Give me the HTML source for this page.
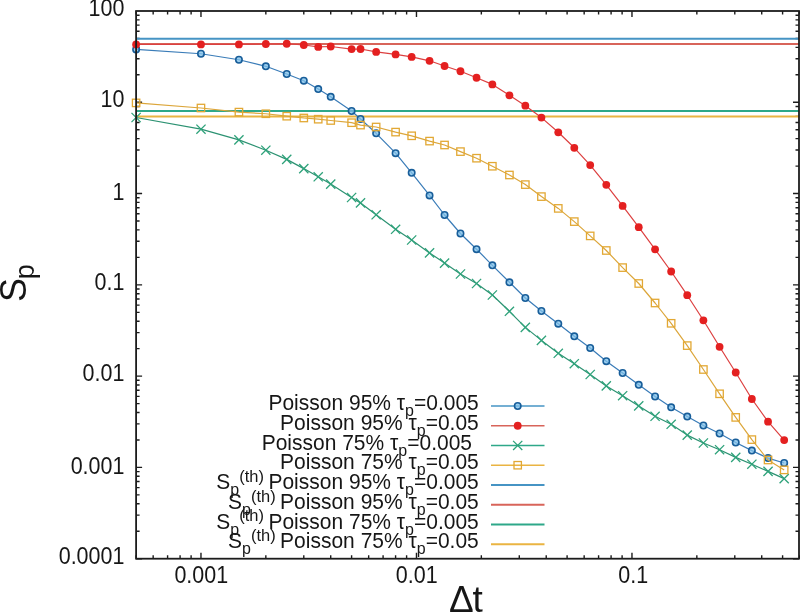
<!DOCTYPE html><html><head><meta charset="utf-8"><style>html,body{margin:0;padding:0;background:#fff;overflow:hidden;width:800px;height:612px;}svg{display:block;}text{font-family:"Liberation Sans",Arial,sans-serif;fill:#161616;}</style></head><body>
<svg width="800" height="612" viewBox="0 0 800 612">
<rect width="800" height="612" fill="#fff"/>
<path d="M136.1,558.7v-3.5M136.1,11v3.5M153.16,558.7v-3.5M153.16,11v3.5M167.59,558.7v-3.5M167.59,11v3.5M180.09,558.7v-3.5M180.09,11v3.5M191.11,558.7v-3.5M191.11,11v3.5M200.97,558.7v-6M200.97,11v6M265.84,558.7v-3.5M265.84,11v3.5M303.79,558.7v-3.5M303.79,11v3.5M330.72,558.7v-3.5M330.72,11v3.5M351.6,558.7v-3.5M351.6,11v3.5M368.66,558.7v-3.5M368.66,11v3.5M383.09,558.7v-3.5M383.09,11v3.5M395.59,558.7v-3.5M395.59,11v3.5M406.61,558.7v-3.5M406.61,11v3.5M416.47,558.7v-6M416.47,11v6M481.34,558.7v-3.5M481.34,11v3.5M519.29,558.7v-3.5M519.29,11v3.5M546.22,558.7v-3.5M546.22,11v3.5M567.1,558.7v-3.5M567.1,11v3.5M584.16,558.7v-3.5M584.16,11v3.5M598.59,558.7v-3.5M598.59,11v3.5M611.09,558.7v-3.5M611.09,11v3.5M622.11,558.7v-3.5M622.11,11v3.5M631.97,558.7v-6M631.97,11v6M696.84,558.7v-3.5M696.84,11v3.5M734.79,558.7v-3.5M734.79,11v3.5M761.72,558.7v-3.5M761.72,11v3.5M782.6,558.7v-3.5M782.6,11v3.5M799.66,558.7v-3.5M799.66,11v3.5M136.1,558.7h6M799,558.7h-6M136.1,531.22h3.5M799,531.22h-3.5M136.1,515.15h3.5M799,515.15h-3.5M136.1,503.74h3.5M799,503.74h-3.5M136.1,494.9h3.5M799,494.9h-3.5M136.1,487.67h3.5M799,487.67h-3.5M136.1,481.56h3.5M799,481.56h-3.5M136.1,476.26h3.5M799,476.26h-3.5M136.1,471.59h3.5M799,471.59h-3.5M136.1,467.42h6M799,467.42h-6M136.1,439.94h3.5M799,439.94h-3.5M136.1,423.86h3.5M799,423.86h-3.5M136.1,412.46h3.5M799,412.46h-3.5M136.1,403.61h3.5M799,403.61h-3.5M136.1,396.38h3.5M799,396.38h-3.5M136.1,390.27h3.5M799,390.27h-3.5M136.1,384.98h3.5M799,384.98h-3.5M136.1,380.31h3.5M799,380.31h-3.5M136.1,376.13h6M799,376.13h-6M136.1,348.65h3.5M799,348.65h-3.5M136.1,332.58h3.5M799,332.58h-3.5M136.1,321.18h3.5M799,321.18h-3.5M136.1,312.33h3.5M799,312.33h-3.5M136.1,305.1h3.5M799,305.1h-3.5M136.1,298.99h3.5M799,298.99h-3.5M136.1,293.7h3.5M799,293.7h-3.5M136.1,289.03h3.5M799,289.03h-3.5M136.1,284.85h6M799,284.85h-6M136.1,257.37h3.5M799,257.37h-3.5M136.1,241.3h3.5M799,241.3h-3.5M136.1,229.89h3.5M799,229.89h-3.5M136.1,221.05h3.5M799,221.05h-3.5M136.1,213.82h3.5M799,213.82h-3.5M136.1,207.71h3.5M799,207.71h-3.5M136.1,202.41h3.5M799,202.41h-3.5M136.1,197.74h3.5M799,197.74h-3.5M136.1,193.57h6M799,193.57h-6M136.1,166.09h3.5M799,166.09h-3.5M136.1,150.01h3.5M799,150.01h-3.5M136.1,138.61h3.5M799,138.61h-3.5M136.1,129.76h3.5M799,129.76h-3.5M136.1,122.53h3.5M799,122.53h-3.5M136.1,116.42h3.5M799,116.42h-3.5M136.1,111.13h3.5M799,111.13h-3.5M136.1,106.46h3.5M799,106.46h-3.5M136.1,102.28h6M799,102.28h-6M136.1,74.8h3.5M799,74.8h-3.5M136.1,58.73h3.5M799,58.73h-3.5M136.1,47.33h3.5M799,47.33h-3.5M136.1,38.48h3.5M799,38.48h-3.5M136.1,31.25h3.5M799,31.25h-3.5M136.1,25.14h3.5M799,25.14h-3.5M136.1,19.85h3.5M799,19.85h-3.5M136.1,15.18h3.5M799,15.18h-3.5" stroke="#1c1c1c" stroke-width="1.4" fill="none"/>
<line x1="136.1" y1="38.8" x2="799.0" y2="38.8" stroke="#4694c4" stroke-width="2.0"/>
<line x1="136.1" y1="44.1" x2="799.0" y2="44.1" stroke="#d8645a" stroke-width="2.0"/>
<line x1="136.1" y1="111.05" x2="799.0" y2="111.05" stroke="#2ea889" stroke-width="2.0"/>
<line x1="136.1" y1="116.6" x2="799.0" y2="116.6" stroke="#eab442" stroke-width="2.0"/>
<polyline points="136.1,49.4 200.97,53.75 238.92,59.75 265.84,66.3 286.73,74 303.79,80.7 318.22,89.1 330.72,96.8 351.6,111 360.52,119 376.15,133.3 395.59,153.2 411.67,172.8 429.55,195.4 444.56,215 460.46,233.5 476.54,249.2 492.37,265.3 509.43,282.3 525.33,298 541.42,311 558.27,323.7 574.3,336.3 590.2,348 606.29,361.2 622.63,373 638.74,384.8 655.08,396.5 671.16,407.3 687.24,416.6 703.39,425.5 719.58,433.5 735.72,442.5 751.86,450.6 768.05,458.1 784.18,463" fill="none" stroke="#3a7cb8" stroke-width="1.2" stroke-linejoin="round"/>
<circle cx="136.1" cy="49.4" r="3.2" fill="#7fc0ea" fill-opacity="0.75" stroke="#185e9a" stroke-width="1.6"/><circle cx="200.97" cy="53.75" r="3.2" fill="#7fc0ea" fill-opacity="0.75" stroke="#185e9a" stroke-width="1.6"/><circle cx="238.92" cy="59.75" r="3.2" fill="#7fc0ea" fill-opacity="0.75" stroke="#185e9a" stroke-width="1.6"/><circle cx="265.84" cy="66.3" r="3.2" fill="#7fc0ea" fill-opacity="0.75" stroke="#185e9a" stroke-width="1.6"/><circle cx="286.73" cy="74" r="3.2" fill="#7fc0ea" fill-opacity="0.75" stroke="#185e9a" stroke-width="1.6"/><circle cx="303.79" cy="80.7" r="3.2" fill="#7fc0ea" fill-opacity="0.75" stroke="#185e9a" stroke-width="1.6"/><circle cx="318.22" cy="89.1" r="3.2" fill="#7fc0ea" fill-opacity="0.75" stroke="#185e9a" stroke-width="1.6"/><circle cx="330.72" cy="96.8" r="3.2" fill="#7fc0ea" fill-opacity="0.75" stroke="#185e9a" stroke-width="1.6"/><circle cx="351.6" cy="111" r="3.2" fill="#7fc0ea" fill-opacity="0.75" stroke="#185e9a" stroke-width="1.6"/><circle cx="360.52" cy="119" r="3.2" fill="#7fc0ea" fill-opacity="0.75" stroke="#185e9a" stroke-width="1.6"/><circle cx="376.15" cy="133.3" r="3.2" fill="#7fc0ea" fill-opacity="0.75" stroke="#185e9a" stroke-width="1.6"/><circle cx="395.59" cy="153.2" r="3.2" fill="#7fc0ea" fill-opacity="0.75" stroke="#185e9a" stroke-width="1.6"/><circle cx="411.67" cy="172.8" r="3.2" fill="#7fc0ea" fill-opacity="0.75" stroke="#185e9a" stroke-width="1.6"/><circle cx="429.55" cy="195.4" r="3.2" fill="#7fc0ea" fill-opacity="0.75" stroke="#185e9a" stroke-width="1.6"/><circle cx="444.56" cy="215" r="3.2" fill="#7fc0ea" fill-opacity="0.75" stroke="#185e9a" stroke-width="1.6"/><circle cx="460.46" cy="233.5" r="3.2" fill="#7fc0ea" fill-opacity="0.75" stroke="#185e9a" stroke-width="1.6"/><circle cx="476.54" cy="249.2" r="3.2" fill="#7fc0ea" fill-opacity="0.75" stroke="#185e9a" stroke-width="1.6"/><circle cx="492.37" cy="265.3" r="3.2" fill="#7fc0ea" fill-opacity="0.75" stroke="#185e9a" stroke-width="1.6"/><circle cx="509.43" cy="282.3" r="3.2" fill="#7fc0ea" fill-opacity="0.75" stroke="#185e9a" stroke-width="1.6"/><circle cx="525.33" cy="298" r="3.2" fill="#7fc0ea" fill-opacity="0.75" stroke="#185e9a" stroke-width="1.6"/><circle cx="541.42" cy="311" r="3.2" fill="#7fc0ea" fill-opacity="0.75" stroke="#185e9a" stroke-width="1.6"/><circle cx="558.27" cy="323.7" r="3.2" fill="#7fc0ea" fill-opacity="0.75" stroke="#185e9a" stroke-width="1.6"/><circle cx="574.3" cy="336.3" r="3.2" fill="#7fc0ea" fill-opacity="0.75" stroke="#185e9a" stroke-width="1.6"/><circle cx="590.2" cy="348" r="3.2" fill="#7fc0ea" fill-opacity="0.75" stroke="#185e9a" stroke-width="1.6"/><circle cx="606.29" cy="361.2" r="3.2" fill="#7fc0ea" fill-opacity="0.75" stroke="#185e9a" stroke-width="1.6"/><circle cx="622.63" cy="373" r="3.2" fill="#7fc0ea" fill-opacity="0.75" stroke="#185e9a" stroke-width="1.6"/><circle cx="638.74" cy="384.8" r="3.2" fill="#7fc0ea" fill-opacity="0.75" stroke="#185e9a" stroke-width="1.6"/><circle cx="655.08" cy="396.5" r="3.2" fill="#7fc0ea" fill-opacity="0.75" stroke="#185e9a" stroke-width="1.6"/><circle cx="671.16" cy="407.3" r="3.2" fill="#7fc0ea" fill-opacity="0.75" stroke="#185e9a" stroke-width="1.6"/><circle cx="687.24" cy="416.6" r="3.2" fill="#7fc0ea" fill-opacity="0.75" stroke="#185e9a" stroke-width="1.6"/><circle cx="703.39" cy="425.5" r="3.2" fill="#7fc0ea" fill-opacity="0.75" stroke="#185e9a" stroke-width="1.6"/><circle cx="719.58" cy="433.5" r="3.2" fill="#7fc0ea" fill-opacity="0.75" stroke="#185e9a" stroke-width="1.6"/><circle cx="735.72" cy="442.5" r="3.2" fill="#7fc0ea" fill-opacity="0.75" stroke="#185e9a" stroke-width="1.6"/><circle cx="751.86" cy="450.6" r="3.2" fill="#7fc0ea" fill-opacity="0.75" stroke="#185e9a" stroke-width="1.6"/><circle cx="768.05" cy="458.1" r="3.2" fill="#7fc0ea" fill-opacity="0.75" stroke="#185e9a" stroke-width="1.6"/><circle cx="784.18" cy="463" r="3.2" fill="#7fc0ea" fill-opacity="0.75" stroke="#185e9a" stroke-width="1.6"/>
<polyline points="136.1,44.5 200.97,44.4 238.92,44.4 265.84,44 286.73,43.75 303.79,45 318.22,46.9 330.72,46.5 351.6,49.1 360.52,49 376.15,51.9 395.59,54.4 411.67,56.9 429.55,60.8 444.56,66 460.46,71.25 476.54,77.75 492.37,84.4 509.43,95.3 525.33,105.65 541.42,117.6 558.27,132.3 574.3,147.8 590.2,165.1 606.29,184.8 622.63,205.9 638.74,227.2 655.08,249.3 671.16,271.5 687.24,295.2 703.39,320.3 719.58,346.8 735.72,372.5 751.86,399 768.05,421.7 784.18,440.1" fill="none" stroke="#dc4040" stroke-width="1.2" stroke-linejoin="round"/>
<circle cx="136.1" cy="44.5" r="3.9" fill="#e42020"/><circle cx="200.97" cy="44.4" r="3.9" fill="#e42020"/><circle cx="238.92" cy="44.4" r="3.9" fill="#e42020"/><circle cx="265.84" cy="44" r="3.9" fill="#e42020"/><circle cx="286.73" cy="43.75" r="3.9" fill="#e42020"/><circle cx="303.79" cy="45" r="3.9" fill="#e42020"/><circle cx="318.22" cy="46.9" r="3.9" fill="#e42020"/><circle cx="330.72" cy="46.5" r="3.9" fill="#e42020"/><circle cx="351.6" cy="49.1" r="3.9" fill="#e42020"/><circle cx="360.52" cy="49" r="3.9" fill="#e42020"/><circle cx="376.15" cy="51.9" r="3.9" fill="#e42020"/><circle cx="395.59" cy="54.4" r="3.9" fill="#e42020"/><circle cx="411.67" cy="56.9" r="3.9" fill="#e42020"/><circle cx="429.55" cy="60.8" r="3.9" fill="#e42020"/><circle cx="444.56" cy="66" r="3.9" fill="#e42020"/><circle cx="460.46" cy="71.25" r="3.9" fill="#e42020"/><circle cx="476.54" cy="77.75" r="3.9" fill="#e42020"/><circle cx="492.37" cy="84.4" r="3.9" fill="#e42020"/><circle cx="509.43" cy="95.3" r="3.9" fill="#e42020"/><circle cx="525.33" cy="105.65" r="3.9" fill="#e42020"/><circle cx="541.42" cy="117.6" r="3.9" fill="#e42020"/><circle cx="558.27" cy="132.3" r="3.9" fill="#e42020"/><circle cx="574.3" cy="147.8" r="3.9" fill="#e42020"/><circle cx="590.2" cy="165.1" r="3.9" fill="#e42020"/><circle cx="606.29" cy="184.8" r="3.9" fill="#e42020"/><circle cx="622.63" cy="205.9" r="3.9" fill="#e42020"/><circle cx="638.74" cy="227.2" r="3.9" fill="#e42020"/><circle cx="655.08" cy="249.3" r="3.9" fill="#e42020"/><circle cx="671.16" cy="271.5" r="3.9" fill="#e42020"/><circle cx="687.24" cy="295.2" r="3.9" fill="#e42020"/><circle cx="703.39" cy="320.3" r="3.9" fill="#e42020"/><circle cx="719.58" cy="346.8" r="3.9" fill="#e42020"/><circle cx="735.72" cy="372.5" r="3.9" fill="#e42020"/><circle cx="751.86" cy="399" r="3.9" fill="#e42020"/><circle cx="768.05" cy="421.7" r="3.9" fill="#e42020"/><circle cx="784.18" cy="440.1" r="3.9" fill="#e42020"/>
<polyline points="136.1,117.5 200.97,129.2 238.92,139.9 265.84,150.2 286.73,159.4 303.79,168.6 318.22,176.8 330.72,184.1 351.6,197.5 360.52,202.9 376.15,214.8 395.59,229.3 411.67,240 429.55,252.9 444.56,263.1 460.46,274 476.54,283.5 492.37,295 509.43,311.3 525.33,327.4 541.42,340.4 558.27,353.3 574.3,363.7 590.2,374.5 606.29,385.9 622.63,395.7 638.74,405.9 655.08,416.3 671.16,424.3 687.24,435.1 703.39,443 719.58,449.7 735.72,457.4 751.86,464.2 768.05,471.4 784.18,478.6" fill="none" stroke="#2c9272" stroke-width="1.2" stroke-linejoin="round"/>
<path d="M131.5,112.9L140.7,122.1M131.5,122.1L140.7,112.9" stroke="#2ea27a" stroke-width="1.3" fill="none"/><path d="M196.37,124.6L205.57,133.8M196.37,133.8L205.57,124.6" stroke="#2ea27a" stroke-width="1.3" fill="none"/><path d="M234.32,135.3L243.52,144.5M234.32,144.5L243.52,135.3" stroke="#2ea27a" stroke-width="1.3" fill="none"/><path d="M261.24,145.6L270.44,154.8M261.24,154.8L270.44,145.6" stroke="#2ea27a" stroke-width="1.3" fill="none"/><path d="M282.13,154.8L291.33,164M282.13,164L291.33,154.8" stroke="#2ea27a" stroke-width="1.3" fill="none"/><path d="M299.19,164L308.39,173.2M299.19,173.2L308.39,164" stroke="#2ea27a" stroke-width="1.3" fill="none"/><path d="M313.62,172.2L322.82,181.4M313.62,181.4L322.82,172.2" stroke="#2ea27a" stroke-width="1.3" fill="none"/><path d="M326.12,179.5L335.32,188.7M326.12,188.7L335.32,179.5" stroke="#2ea27a" stroke-width="1.3" fill="none"/><path d="M347,192.9L356.2,202.1M347,202.1L356.2,192.9" stroke="#2ea27a" stroke-width="1.3" fill="none"/><path d="M355.92,198.3L365.12,207.5M355.92,207.5L365.12,198.3" stroke="#2ea27a" stroke-width="1.3" fill="none"/><path d="M371.55,210.2L380.75,219.4M371.55,219.4L380.75,210.2" stroke="#2ea27a" stroke-width="1.3" fill="none"/><path d="M390.99,224.7L400.19,233.9M390.99,233.9L400.19,224.7" stroke="#2ea27a" stroke-width="1.3" fill="none"/><path d="M407.07,235.4L416.27,244.6M407.07,244.6L416.27,235.4" stroke="#2ea27a" stroke-width="1.3" fill="none"/><path d="M424.95,248.3L434.15,257.5M424.95,257.5L434.15,248.3" stroke="#2ea27a" stroke-width="1.3" fill="none"/><path d="M439.96,258.5L449.16,267.7M439.96,267.7L449.16,258.5" stroke="#2ea27a" stroke-width="1.3" fill="none"/><path d="M455.86,269.4L465.06,278.6M455.86,278.6L465.06,269.4" stroke="#2ea27a" stroke-width="1.3" fill="none"/><path d="M471.94,278.9L481.14,288.1M471.94,288.1L481.14,278.9" stroke="#2ea27a" stroke-width="1.3" fill="none"/><path d="M487.77,290.4L496.97,299.6M487.77,299.6L496.97,290.4" stroke="#2ea27a" stroke-width="1.3" fill="none"/><path d="M504.83,306.7L514.03,315.9M504.83,315.9L514.03,306.7" stroke="#2ea27a" stroke-width="1.3" fill="none"/><path d="M520.73,322.8L529.93,332M520.73,332L529.93,322.8" stroke="#2ea27a" stroke-width="1.3" fill="none"/><path d="M536.82,335.8L546.02,345M536.82,345L546.02,335.8" stroke="#2ea27a" stroke-width="1.3" fill="none"/><path d="M553.67,348.7L562.87,357.9M553.67,357.9L562.87,348.7" stroke="#2ea27a" stroke-width="1.3" fill="none"/><path d="M569.7,359.1L578.9,368.3M569.7,368.3L578.9,359.1" stroke="#2ea27a" stroke-width="1.3" fill="none"/><path d="M585.6,369.9L594.8,379.1M585.6,379.1L594.8,369.9" stroke="#2ea27a" stroke-width="1.3" fill="none"/><path d="M601.69,381.3L610.89,390.5M601.69,390.5L610.89,381.3" stroke="#2ea27a" stroke-width="1.3" fill="none"/><path d="M618.03,391.1L627.23,400.3M618.03,400.3L627.23,391.1" stroke="#2ea27a" stroke-width="1.3" fill="none"/><path d="M634.14,401.3L643.34,410.5M634.14,410.5L643.34,401.3" stroke="#2ea27a" stroke-width="1.3" fill="none"/><path d="M650.48,411.7L659.68,420.9M650.48,420.9L659.68,411.7" stroke="#2ea27a" stroke-width="1.3" fill="none"/><path d="M666.56,419.7L675.76,428.9M666.56,428.9L675.76,419.7" stroke="#2ea27a" stroke-width="1.3" fill="none"/><path d="M682.64,430.5L691.84,439.7M682.64,439.7L691.84,430.5" stroke="#2ea27a" stroke-width="1.3" fill="none"/><path d="M698.79,438.4L707.99,447.6M698.79,447.6L707.99,438.4" stroke="#2ea27a" stroke-width="1.3" fill="none"/><path d="M714.98,445.1L724.18,454.3M714.98,454.3L724.18,445.1" stroke="#2ea27a" stroke-width="1.3" fill="none"/><path d="M731.12,452.8L740.32,462M731.12,462L740.32,452.8" stroke="#2ea27a" stroke-width="1.3" fill="none"/><path d="M747.26,459.6L756.46,468.8M747.26,468.8L756.46,459.6" stroke="#2ea27a" stroke-width="1.3" fill="none"/><path d="M763.45,466.8L772.65,476M763.45,476L772.65,466.8" stroke="#2ea27a" stroke-width="1.3" fill="none"/><path d="M779.58,474L788.78,483.2M779.58,483.2L788.78,474" stroke="#2ea27a" stroke-width="1.3" fill="none"/>
<polyline points="136.1,102.9 200.97,108 238.92,112.1 265.84,113.75 286.73,116.2 303.79,118 318.22,119.2 330.72,120.5 351.6,122.7 360.52,125.1 376.15,127 395.59,132.1 411.67,135.8 429.55,141.1 444.56,145 460.46,151.6 476.54,158.2 492.37,166.25 509.43,175 525.33,184.6 541.42,196.6 558.27,208.4 574.3,221.6 590.2,235.9 606.29,250.5 622.63,267.6 638.74,283.5 655.08,303 671.16,323.3 687.24,345.6 703.39,369.5 719.58,393.8 735.72,417.4 751.86,439.6 768.05,460 784.18,469.9" fill="none" stroke="#dca63a" stroke-width="1.2" stroke-linejoin="round"/>
<rect x="132.4" y="99.2" width="7.4" height="7.4" fill="none" stroke="#e2a834" stroke-width="1.3"/><rect x="197.27" y="104.3" width="7.4" height="7.4" fill="none" stroke="#e2a834" stroke-width="1.3"/><rect x="235.22" y="108.4" width="7.4" height="7.4" fill="none" stroke="#e2a834" stroke-width="1.3"/><rect x="262.14" y="110.05" width="7.4" height="7.4" fill="none" stroke="#e2a834" stroke-width="1.3"/><rect x="283.03" y="112.5" width="7.4" height="7.4" fill="none" stroke="#e2a834" stroke-width="1.3"/><rect x="300.09" y="114.3" width="7.4" height="7.4" fill="none" stroke="#e2a834" stroke-width="1.3"/><rect x="314.52" y="115.5" width="7.4" height="7.4" fill="none" stroke="#e2a834" stroke-width="1.3"/><rect x="327.02" y="116.8" width="7.4" height="7.4" fill="none" stroke="#e2a834" stroke-width="1.3"/><rect x="347.9" y="119" width="7.4" height="7.4" fill="none" stroke="#e2a834" stroke-width="1.3"/><rect x="356.82" y="121.4" width="7.4" height="7.4" fill="none" stroke="#e2a834" stroke-width="1.3"/><rect x="372.45" y="123.3" width="7.4" height="7.4" fill="none" stroke="#e2a834" stroke-width="1.3"/><rect x="391.89" y="128.4" width="7.4" height="7.4" fill="none" stroke="#e2a834" stroke-width="1.3"/><rect x="407.97" y="132.1" width="7.4" height="7.4" fill="none" stroke="#e2a834" stroke-width="1.3"/><rect x="425.85" y="137.4" width="7.4" height="7.4" fill="none" stroke="#e2a834" stroke-width="1.3"/><rect x="440.86" y="141.3" width="7.4" height="7.4" fill="none" stroke="#e2a834" stroke-width="1.3"/><rect x="456.76" y="147.9" width="7.4" height="7.4" fill="none" stroke="#e2a834" stroke-width="1.3"/><rect x="472.84" y="154.5" width="7.4" height="7.4" fill="none" stroke="#e2a834" stroke-width="1.3"/><rect x="488.67" y="162.55" width="7.4" height="7.4" fill="none" stroke="#e2a834" stroke-width="1.3"/><rect x="505.73" y="171.3" width="7.4" height="7.4" fill="none" stroke="#e2a834" stroke-width="1.3"/><rect x="521.63" y="180.9" width="7.4" height="7.4" fill="none" stroke="#e2a834" stroke-width="1.3"/><rect x="537.72" y="192.9" width="7.4" height="7.4" fill="none" stroke="#e2a834" stroke-width="1.3"/><rect x="554.57" y="204.7" width="7.4" height="7.4" fill="none" stroke="#e2a834" stroke-width="1.3"/><rect x="570.6" y="217.9" width="7.4" height="7.4" fill="none" stroke="#e2a834" stroke-width="1.3"/><rect x="586.5" y="232.2" width="7.4" height="7.4" fill="none" stroke="#e2a834" stroke-width="1.3"/><rect x="602.59" y="246.8" width="7.4" height="7.4" fill="none" stroke="#e2a834" stroke-width="1.3"/><rect x="618.93" y="263.9" width="7.4" height="7.4" fill="none" stroke="#e2a834" stroke-width="1.3"/><rect x="635.04" y="279.8" width="7.4" height="7.4" fill="none" stroke="#e2a834" stroke-width="1.3"/><rect x="651.38" y="299.3" width="7.4" height="7.4" fill="none" stroke="#e2a834" stroke-width="1.3"/><rect x="667.46" y="319.6" width="7.4" height="7.4" fill="none" stroke="#e2a834" stroke-width="1.3"/><rect x="683.54" y="341.9" width="7.4" height="7.4" fill="none" stroke="#e2a834" stroke-width="1.3"/><rect x="699.69" y="365.8" width="7.4" height="7.4" fill="none" stroke="#e2a834" stroke-width="1.3"/><rect x="715.88" y="390.1" width="7.4" height="7.4" fill="none" stroke="#e2a834" stroke-width="1.3"/><rect x="732.02" y="413.7" width="7.4" height="7.4" fill="none" stroke="#e2a834" stroke-width="1.3"/><rect x="748.16" y="435.9" width="7.4" height="7.4" fill="none" stroke="#e2a834" stroke-width="1.3"/><rect x="764.35" y="456.3" width="7.4" height="7.4" fill="none" stroke="#e2a834" stroke-width="1.3"/><rect x="780.48" y="466.2" width="7.4" height="7.4" fill="none" stroke="#e2a834" stroke-width="1.3"/>
<rect x="136.1" y="11" width="662.9" height="547.7" fill="none" stroke="#1c1c1c" stroke-width="1.8"/>
<text transform="translate(124.4,16.2) scale(1,1.08)" font-size="21.5" text-anchor="end">100</text><text transform="translate(124.4,107.48) scale(1,1.08)" font-size="21.5" text-anchor="end">10</text><text transform="translate(124.4,199.77) scale(1,1.08)" font-size="21.5" text-anchor="end">1</text><text transform="translate(124.4,290.05) scale(1,1.08)" font-size="21.5" text-anchor="end">0.1</text><text transform="translate(124.4,381.33) scale(1,1.08)" font-size="21.5" text-anchor="end">0.01</text><text transform="translate(124.4,473.62) scale(1,1.08)" font-size="21.5" text-anchor="end">0.001</text><text transform="translate(124.4,563.9) scale(1,1.08)" font-size="21.5" text-anchor="end">0.0001</text><text transform="translate(201.27,583) scale(1,1.08)" font-size="21.5" text-anchor="middle">0.001</text><text transform="translate(416.77,583) scale(1,1.08)" font-size="21.5" text-anchor="middle">0.01</text><text transform="translate(633.17,583) scale(1,1.08)" font-size="21.5" text-anchor="middle">0.1</text>
<text transform="translate(25.5,302) rotate(-90)" font-size="36">S<tspan font-size="27" dx="-1.2" dy="8.4">p</tspan></text>
<text transform="translate(466,612)" font-size="37" text-anchor="middle">Δ<tspan dx="-1.2">t</tspan></text>
<text transform="translate(478.8,410.2) scale(1,1.045)" font-size="21" text-anchor="end">Poisson 95% τ<tspan font-size="16" dy="5.8">p</tspan><tspan dy="-5.8">=0.005</tspan></text>
<line x1="491" y1="406" x2="544.5" y2="406" stroke="#4694c4" stroke-width="1.6"/>
<circle cx="517.7" cy="406" r="3.2" fill="#7fc0ea" fill-opacity="0.75" stroke="#185e9a" stroke-width="1.6"/>
<text transform="translate(478.8,429.94) scale(1,1.045)" font-size="21" text-anchor="end">Poisson 95% τ<tspan font-size="16" dy="5.8">p</tspan><tspan dy="-5.8">=0.05</tspan></text>
<line x1="491" y1="425.74" x2="544.5" y2="425.74" stroke="#d8645a" stroke-width="1.6"/>
<circle cx="517.7" cy="425.74" r="3.9" fill="#e42020"/>
<text transform="translate(472.0,449.68) scale(1,1.045)" font-size="21" text-anchor="end">Poisson 75% τ<tspan font-size="16" dy="5.8">p</tspan><tspan dy="-5.8">=0.005</tspan></text>
<line x1="491" y1="445.48" x2="544.5" y2="445.48" stroke="#2ea889" stroke-width="1.6"/>
<path d="M513.1,440.88L522.3,450.08M513.1,450.08L522.3,440.88" stroke="#2ea27a" stroke-width="1.3" fill="none"/>
<text transform="translate(478.8,469.42) scale(1,1.045)" font-size="21" text-anchor="end">Poisson 75% τ<tspan font-size="16" dy="5.8">p</tspan><tspan dy="-5.8">=0.05</tspan></text>
<line x1="491" y1="465.22" x2="544.5" y2="465.22" stroke="#eab442" stroke-width="1.6"/>
<rect x="514" y="461.52" width="7.4" height="7.4" fill="none" stroke="#e2a834" stroke-width="1.3"/>
<text transform="translate(478.8,489.16) scale(1,1.045)" font-size="21" text-anchor="end">S<tspan font-size="16" dy="5.8">p</tspan><tspan font-size="16.5" dy="-12.8">(th)</tspan><tspan dy="7" font-size="16"> </tspan>Poisson 95% τ<tspan font-size="16" dy="5.8">p</tspan><tspan dy="-5.8">=0.005</tspan></text>
<line x1="491" y1="484.96" x2="544.5" y2="484.96" stroke="#4694c4" stroke-width="2.0"/>
<text transform="translate(478.8,508.9) scale(1,1.045)" font-size="21" text-anchor="end">S<tspan font-size="16" dy="5.8">p</tspan><tspan font-size="16.5" dy="-12.8">(th)</tspan><tspan dy="7" font-size="16"> </tspan>Poisson 95% τ<tspan font-size="16" dy="5.8">p</tspan><tspan dy="-5.8">=0.05</tspan></text>
<line x1="491" y1="504.7" x2="544.5" y2="504.7" stroke="#d8645a" stroke-width="2.0"/>
<text transform="translate(478.8,528.64) scale(1,1.045)" font-size="21" text-anchor="end">S<tspan font-size="16" dy="5.8">p</tspan><tspan font-size="16.5" dy="-12.8">(th)</tspan><tspan dy="7" font-size="16"> </tspan>Poisson 75% τ<tspan font-size="16" dy="5.8">p</tspan><tspan dy="-5.8">=0.005</tspan></text>
<line x1="491" y1="524.44" x2="544.5" y2="524.44" stroke="#2ea889" stroke-width="2.0"/>
<text transform="translate(478.8,548.38) scale(1,1.045)" font-size="21" text-anchor="end">S<tspan font-size="16" dy="5.8">p</tspan><tspan font-size="16.5" dy="-12.8">(th)</tspan><tspan dy="7" font-size="16"> </tspan>Poisson 75% τ<tspan font-size="16" dy="5.8">p</tspan><tspan dy="-5.8">=0.05</tspan></text>
<line x1="491" y1="544.18" x2="544.5" y2="544.18" stroke="#eab442" stroke-width="2.0"/>
</svg></body></html>
